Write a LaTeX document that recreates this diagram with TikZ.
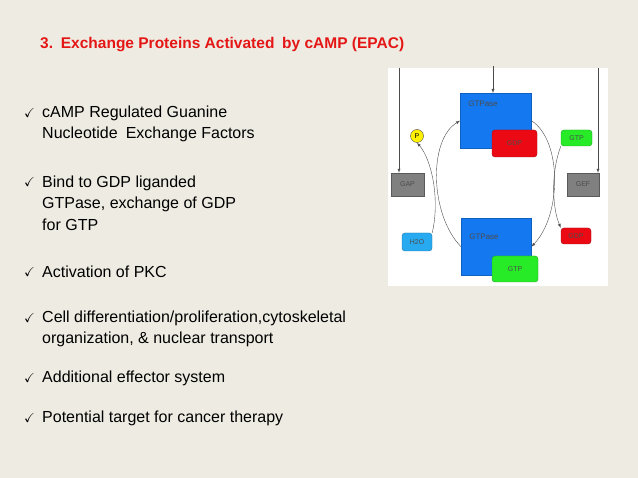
\documentclass[tikz,border=0pt]{standalone}
\usepackage{amssymb}
\usepackage{fontspec}
\setmainfont{Liberation Sans}
\usetikzlibrary{positioning}
\definecolor{slidebg}{RGB}{238,236,226}
\definecolor{titlered}{RGB}{228,22,22}
\definecolor{gblue}{RGB}{20,120,240}
\definecolor{gred}{RGB}{235,10,20}
\definecolor{ggreen}{RGB}{40,235,40}
\definecolor{ggrey}{RGB}{128,128,128}
\definecolor{gcyan}{RGB}{40,170,240}
\begin{document}
\begin{tikzpicture}[x=1pt,y=-1pt]
    % Default looks
    \tikzstyle{every node}=[inner sep=0pt];
    \tikzstyle{item}=[anchor=west, align=left, font=\fontsize{16}{21.5}\selectfont];
    \tikzstyle{tick}=[anchor=west, font=\fontsize{13}{13}\selectfont];
    \tikzstyle{box}=[draw=#1!70!black, fill=#1, rounded corners=3pt, font=\fontsize{7}{7}\selectfont\color{black!70}];
    \tikzstyle{prot}=[draw=gblue!80!black, fill=gblue, anchor=north west, font=\fontsize{8}{8}\selectfont\color{black!70}];
    \tikzstyle{flow}=[draw=black!70, ->, >=latex];
    \fill[slidebg] (0,0) rectangle (638,478);
    % Title and bullets
    \node[anchor=west, text=titlered, font=\fontsize{15.5}{15.5}\selectfont\bfseries] (title) at (40,45)
        {3.\enspace Exchange Proteins Activated\enspace by cAMP (EPAC)};
    \foreach \y/\txt in {124/{cAMP Regulated Guanine\\Nucleotide\enspace Exchange Factors},
        203/{Bind to GDP liganded\\GTPase, exchange of GDP\\for GTP},
        272/{Activation of PKC},
        329/{Cell differentiation/proliferation,cytoskeletal\\organization, \& nuclear transport},
        378/{Additional effector system},
        418/{Potential target for cancer therapy}}
    {
        \node[item] at (42,\y) {\txt};
    }
    \foreach \y in {113,182,272,318,378,418}
        \node[tick] at (24,\y) {$\checkmark$};
    % Diagram panel
    \fill[white] (388,68) rectangle (608,286);
    \node[prot, minimum width=71pt, minimum height=55pt] (gtop) at (460,93) {};
    \node[font=\fontsize{8}{8}\selectfont\color{black!70}] at (483,104) {GTPase};
    \node[box=gred, minimum width=45pt, minimum height=27pt] (gdp1) at (514.5,143.5) {GDP};
    \node[prot, minimum width=70pt, minimum height=57pt] (gbot) at (461,218) {};
    \node[font=\fontsize{8}{8}\selectfont\color{black!70}] at (484,237) {GTPase};
    \node[box=ggreen, minimum width=46pt, minimum height=26pt] (gtp1) at (515,269) {GTP};
    \node[draw=black!70, fill=yellow, circle, minimum size=13pt, font=\fontsize{7}{7}\selectfont] (pi) at (417,136) {P};
    \node[box=ggreen, minimum width=31pt, minimum height=16pt] (gtp2) at (576.5,138) {GTP};
    \node[box=ggrey, rounded corners=0pt, minimum width=33pt, minimum height=23pt] (gap) at (407.5,184.5) {GAP};
    \node[box=ggrey, rounded corners=0pt, minimum width=32pt, minimum height=23pt] (gef) at (583,184.5) {GEF};
    \node[box=gcyan, minimum width=30pt, minimum height=18pt] (water) at (417,242) {H2O};
    \node[box=gred, minimum width=30pt, minimum height=16pt] (gdp2) at (576,236) {GDP};
    \coordinate (tin) at (493,66);
    \coordinate (lin) at (399,68);
    \coordinate (rin) at (598,68);
    % Connectors
    \draw[flow] (tin) -- (gtop.north -| tin);
    \draw[flow] (lin) -- (lin |- gap.north);
    \draw[flow] (rin) -- (rin |- gef.north);
    \draw[flow] (gbot.west) .. controls (430,215) and (428,140) .. (gtop.west);
    \draw[flow] (gtop.east) .. controls (562,140) and (562,215) .. (gbot.east);
    \draw[flow] (water.north east) .. controls (440,200) and (432,160) .. (pi.south);
    \draw[flow] (gtp2.south west) .. controls (550,175) and (553,210) .. (gdp2.north west);
\end{tikzpicture}
\end{document}
